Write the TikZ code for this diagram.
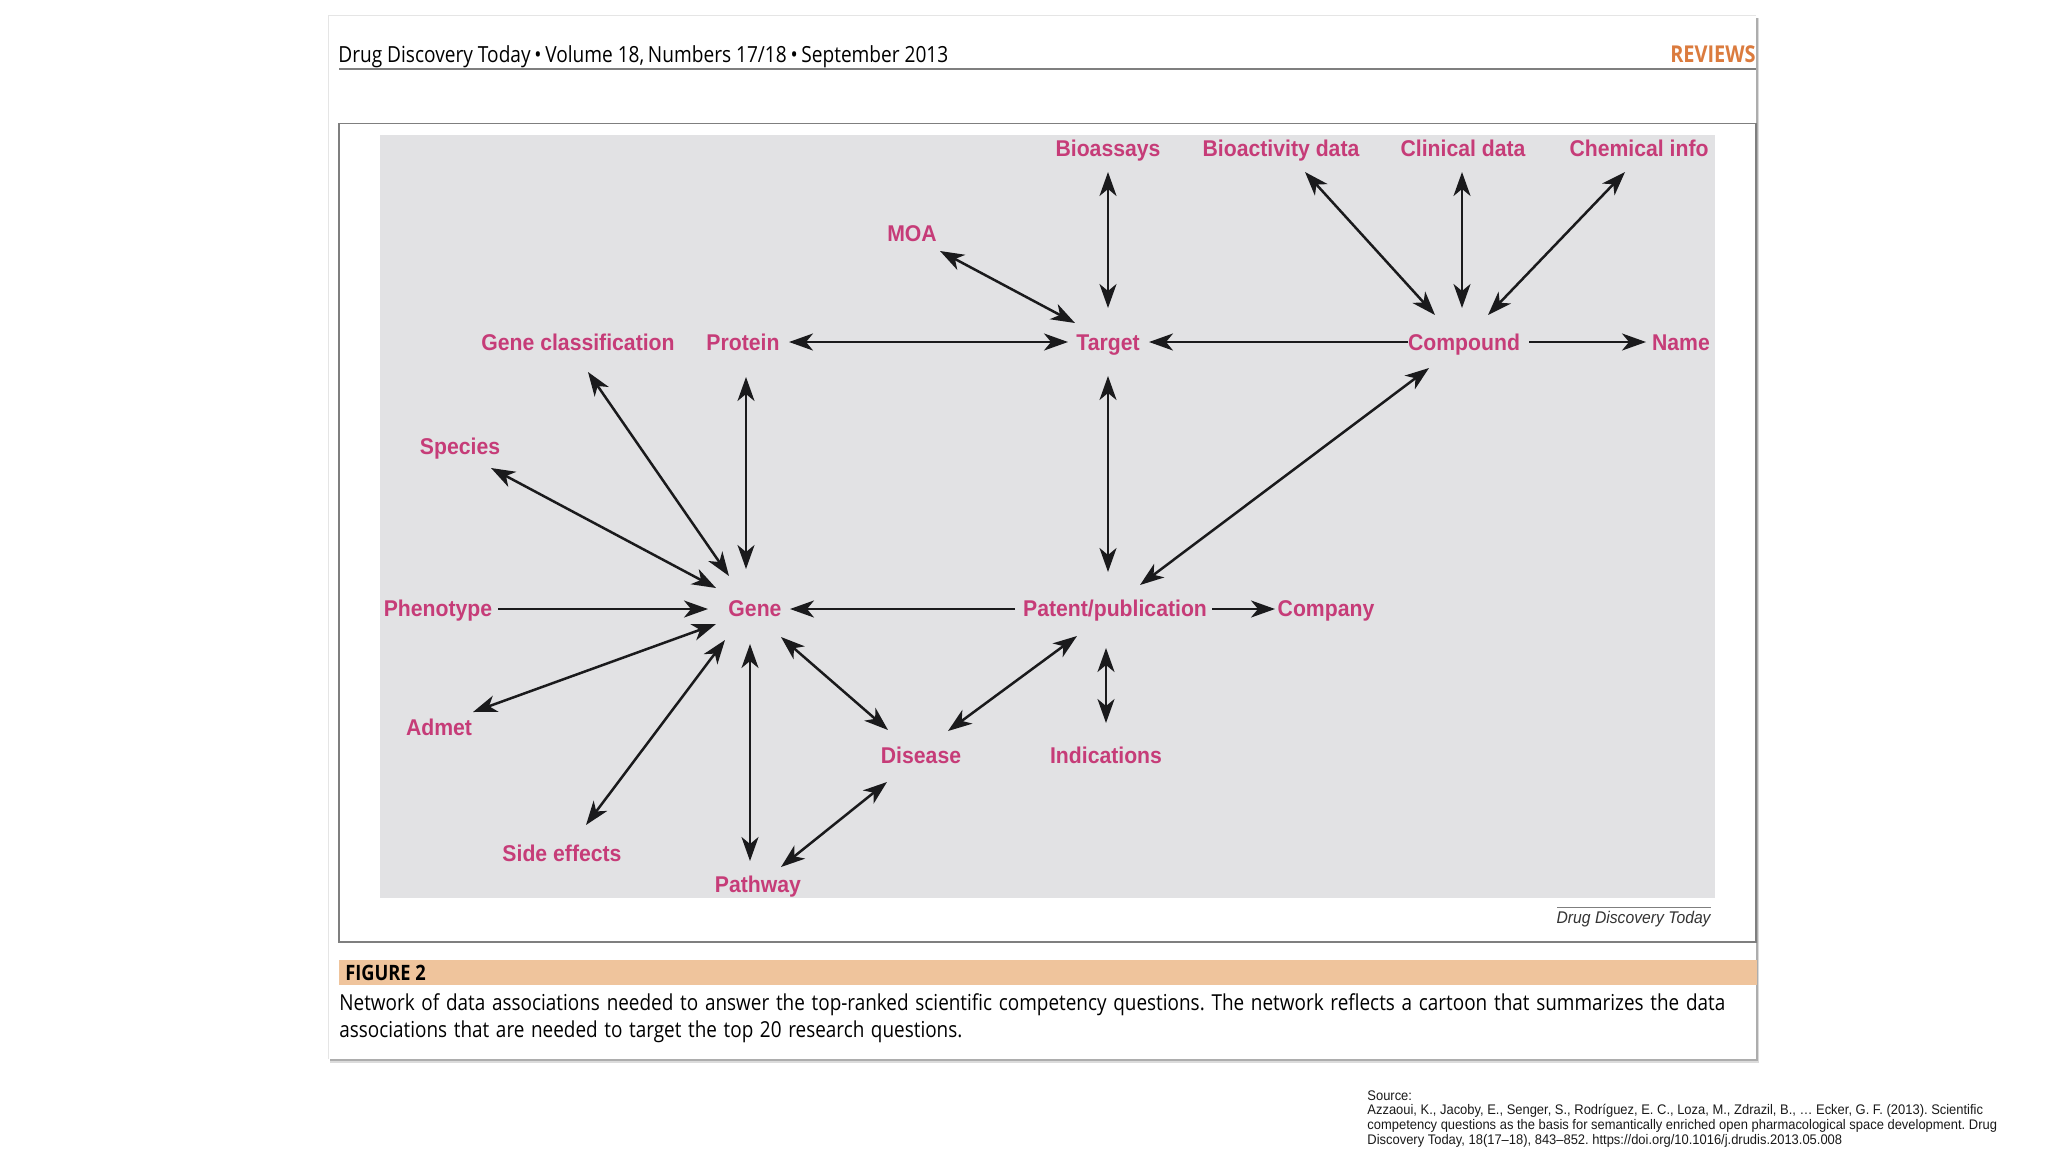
\documentclass[tikz,border=0pt]{standalone}
\usepackage{fontspec}
\setmainfont{Open Sans}[FakeStretch=0.86]
\newfontfamily\labelfont{Liberation Sans}[FakeStretch=0.93]
\usetikzlibrary{arrows.meta}
\definecolor{labelpink}{HTML}{C63C78}
\definecolor{panelgray}{HTML}{E2E2E4}
\definecolor{barorange}{HTML}{EFC49C}
\definecolor{framegray}{HTML}{7F7F7F}
\definecolor{headorange}{HTML}{DB7B3E}
\definecolor{inkblack}{HTML}{1A1A1C}
\tikzset{
  x=0.5pt,y=-0.5pt,
  lab/.style={inner sep=0pt,text height=9.3pt,text depth=0.9pt,font=\labelfont\bfseries\fontsize{11.4}{13}\selectfont,text=labelpink},
  two/.style={draw=inkblack,line width=1.25pt,{Stealth[length=12pt,width=8.5pt,inset=3.5pt]}-{Stealth[length=12pt,width=8.5pt,inset=3.5pt]}},
  one/.style={draw=inkblack,line width=1.25pt,-{Stealth[length=12pt,width=8.5pt,inset=3.5pt]}},
  plain/.style={inner sep=0pt,text=black},
}
\begin{document}
\frenchspacing
\begin{tikzpicture}
\useasboundingbox (0,0) rectangle (2048,1152);
% page with soft shadow
\fill[black!14] (330,18) rectangle (1759,1063);
\fill[black!32] (330,18) rectangle (1757.5,1061);
\fill[white] (328,15) rectangle (1755.5,1058.5);
\draw[black!10,line width=0.5pt] (328,15) -- (1755.5,15);
\draw[black!10,line width=0.5pt] (328,15) -- (328,1058.5);
% running head
\node[plain,anchor=west,font=\fontsize{11.1}{12}\selectfont] (head) at (338,56.5) {Drug Discovery Today\,•\,Volume 18,\,Numbers 17/18\,•\,September 2013};
\node[plain,anchor=east,font=\bfseries\fontsize{11.6}{12}\selectfont,text=headorange] (rev) at (1756,54) {REVIEWS};
\draw[framegray,line width=0.9pt] (339,69) -- (1756,69);
% figure frame and panel
\draw[framegray,line width=0.8pt] (339,123.5) rectangle (1756,942);
\fill[panelgray] (380,134.5) rectangle (1715,898);
\draw[framegray,line width=0.5pt] (1557,907.5) -- (1711,907.5);
\node[plain,anchor=east,font=\labelfont\itshape\fontsize{8.45}{10}\selectfont,text=black!80] (credit) at (1711,919) {Drug Discovery Today};
% caption
\fill[barorange] (339,960) rectangle (1757,985);
\node[plain,anchor=west,font=\bfseries\fontsize{10.6}{11}\selectfont] (fig) at (345,972.5) {FIGURE 2};
\node[plain,anchor=west,font=\fontsize{11}{12}\selectfont] (cap1) at (339,1004.5) {\makebox[693pt][s]{Network of data associations needed to answer the top-ranked scientific competency questions. The network reflects a cartoon that summarizes the data}};
\node[plain,anchor=west,font=\fontsize{11}{12}\selectfont] (cap2) at (339,1031.5) {\makebox[311.5pt][s]{associations that are needed to target the top 20 research questions.}};
% source
\node[plain,anchor=north west,align=left,font=\labelfont\fontsize{6.96}{7.4}\selectfont,text=black!90] (src) at (1367,1090) {Source:\\Azzaoui, K., Jacoby, E., Senger, S., Rodríguez, E. C., Loza, M., Zdrazil, B., … Ecker, G. F. (2013). Scientific\\competency questions as the basis for semantically enriched open pharmacological space development. Drug\\Discovery Today, 18(17–18), 843–852. https://doi.org/10.1016/j.drudis.2013.05.008};
% network nodes
\node[lab] (bio) at (1108,148) {Bioassays};
\node[lab] (act) at (1281,148) {Bioactivity data};
\node[lab] (cli) at (1463,148) {Clinical data};
\node[lab] (che) at (1639,148) {Chemical info};
\node[lab] (moa) at (912,233) {MOA};
\node[lab] (gcl) at (578,342) {Gene classification};
\node[lab] (pro) at (743,342) {Protein};
\node[lab] (tgt) at (1108,342) {Target};
\node[lab] (cmp) at (1464,342) {Compound};
\node[lab] (nam) at (1681,342) {Name};
\node[lab] (spe) at (460,446) {Species};
\node[lab] (phe) at (438,608) {Phenotype};
\node[lab] (gen) at (755,608) {Gene};
\node[lab] (pat) at (1115,608) {Patent/publication};
\node[lab] (com) at (1326,608) {Company};
\node[lab] (adm) at (439,727) {Admet};
\node[lab] (dis) at (921,755) {Disease};
\node[lab] (ind) at (1106,755) {Indications};
\node[lab] (sid) at (562,853) {Side effects};
\node[lab] (pth) at (758,884) {Pathway};
% connectors
\draw[two] ([shift={(0,24)}]bio.center) -- ([shift={(0,-34)}]tgt.center);
\draw[two] ([shift={(28,18)}]moa.center) -- ([shift={(-33,-19)}]tgt.center);
\draw[two] ([shift={(24,24)}]act.center) -- ([shift={(-29,-27)}]cmp.center);
\draw[two] ([shift={(-1,24)}]cli.center) -- ([shift={(-2,-34)}]cmp.center);
\draw[two] ([shift={(-14,24)}]che.center) -- ([shift={(24,-27)}]cmp.center);
\draw[two] ([shift={(46,0)}]pro.center) -- ([shift={(-40,0)}]tgt.center);
\draw[one] ([shift={(-56,0)}]cmp.center) -- ([shift={(41,0)}]tgt.center);
\draw[one] ([shift={(65,0)}]cmp.center) -- ([shift={(-35,0)}]nam.center);
\draw[two] ([shift={(10,30)}]gcl.center) -- ([shift={(-26,-32)}]gen.center);
\draw[two] ([shift={(3,35)}]pro.center) -- ([shift={(-9,-39)}]gen.center);
\draw[two] ([shift={(0,34)}]tgt.center) -- ([shift={(-7,-36)}]pat.center);
\draw[two] ([shift={(-35,26)}]cmp.center) -- ([shift={(25,-23)}]pat.center);
\draw[two] ([shift={(31,22)}]spe.center) -- ([shift={(-39,-20)}]gen.center);
\draw[one] ([shift={(60,1)}]phe.center) -- ([shift={(-47,1)}]gen.center);
\draw[one] ([shift={(-100,1)}]pat.center) -- ([shift={(35,1)}]gen.center);
\draw[one] ([shift={(97,1)}]pat.center) -- ([shift={(-51,1)}]com.center);
\draw[two] ([shift={(34,-15)}]adm.center) -- ([shift={(-39,16)}]gen.center);
\draw[two] ([shift={(24,-28)}]sid.center) -- ([shift={(-30,32)}]gen.center);
\draw[two] ([shift={(-8,-23)}]pth.center) -- ([shift={(-5,36)}]gen.center);
\draw[two] ([shift={(26,29)}]gen.center) -- ([shift={(-33,-25)}]dis.center);
\draw[two] ([shift={(27,-24)}]dis.center) -- ([shift={(-38,28)}]pat.center);
\draw[two] ([shift={(-9,40)}]pat.center) -- ([shift={(0,-32)}]ind.center);
\draw[two] ([shift={(-34,27)}]dis.center) -- ([shift={(23,-17)}]pth.center);
\end{tikzpicture}
\end{document}
